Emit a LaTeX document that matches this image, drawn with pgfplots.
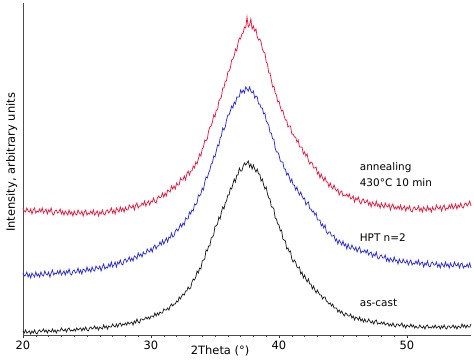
\documentclass[border=0pt]{standalone}
\usepackage{fontspec}
\setmainfont{DejaVu Sans}
\usepackage{pgfplots}
\usepackage{pgfplotstable}
\pgfplotsset{compat=1.18}
\definecolor{cred}{RGB}{232,28,64}
\definecolor{cblue}{RGB}{45,45,220}
\definecolor{cblack}{RGB}{30,30,30}
\pgfplotstableread{
x b h a
20.0 4 62 127
20.1 2 59 124
20.2 5 60 123
20.3 2 63 127
20.4 3 58 124
20.5 4 61 123
20.6 1 57 126
20.7 4 62 121
20.8 2 60 125
20.9 5 58 127
21.0 2 63 122
21.1 1 59 124
21.2 4 61 123
21.3 5 58 126
21.4 3 63 123
21.5 4 60 127
21.6 6 59 122
21.7 3 64 124
21.8 5 61 126
21.9 2 60 121
22.0 5 63 125
22.1 4 58 123
22.2 3 62 127
22.3 6 65 121
22.4 3 60 120
22.5 5 62 124
22.6 2 61 125
22.7 5 64 122
22.8 4 61 123
22.9 4 65 126
23.0 7 60 121
23.1 5 62 124
23.2 4 64 120
23.3 6 60 124
23.4 3 64 122
23.5 6 62 120
23.6 7 66 125
23.7 4 61 121
23.8 5 60 123
23.9 4 64 119
24.0 6 65 124
24.1 4 62 121
24.2 7 63 120
24.3 5 67 125
24.4 6 62 122
24.5 7 65 121
24.6 4 61 124
24.7 7 66 119
24.8 5 65 123
24.9 8 63 125
25.0 5 68 120
25.1 4 64 122
25.2 7 66 121
25.3 8 63 124
25.4 6 68 121
25.5 7 65 125
25.6 9 64 120
25.7 6 69 122
25.8 8 67 124
25.9 5 66 119
26.0 8 69 123
26.1 7 64 121
26.2 6 68 125
26.3 10 71 121
26.4 7 66 120
26.5 9 68 124
26.6 6 67 125
26.7 9 71 122
26.8 8 68 124
26.9 8 73 127
27.0 11 68 122
27.1 9 70 125
27.2 8 73 121
27.3 11 68 127
27.4 8 73 125
27.5 11 71 123
27.6 12 75 128
27.7 9 71 124
27.8 11 70 127
27.9 10 75 123
28.0 12 76 128
28.1 10 73 125
28.2 13 75 125
28.3 11 78 130
28.4 12 74 128
28.5 13 77 127
28.6 10 74 130
28.7 14 79 125
28.8 12 78 130
28.9 16 76 132
29.0 13 82 127
29.1 12 79 129
29.2 16 81 129
29.3 16 78 132
29.4 15 83 130
29.5 16 81 134
29.6 18 81 129
29.7 16 86 132
29.8 18 84 134
29.9 16 83 130
30.0 19 87 134
30.1 19 83 133
30.2 18 88 137
30.3 22 90 133
30.4 19 86 132
30.5 22 89 137
30.6 20 89 139
30.7 23 93 137
30.8 22 90 138
30.9 22 95 142
31.0 26 91 138
31.1 25 94 142
31.2 25 97 139
31.3 27 93 145
31.4 25 98 144
31.5 29 97 143
31.6 31 102 149
31.7 29 98 146
31.8 31 99 149
31.9 31 104 146
32.0 34 106 152
32.1 33 104 150
32.2 38 107 150
32.3 36 111 157
32.4 39 108 155
32.5 41 112 155
32.6 40 110 159
32.7 44 117 155
32.8 44 116 161
32.9 48 116 164
33.0 46 123 160
33.1 47 121 164
33.2 53 125 164
33.3 56 124 169
33.4 55 131 167
33.5 58 130 173
33.6 64 132 171
33.7 62 140 176
33.8 67 139 181
33.9 66 141 179
34.0 74 147 186
34.1 75 145 188
34.2 76 153 195
34.3 85 158 194
34.4 84 157 196
34.5 89 162 204
34.6 89 165 208
34.7 97 171 209
34.8 98 172 213
34.9 100 179 220
35.0 109 178 218
35.1 109 184 225
35.2 111 190 225
35.3 118 189 234
35.4 116 197 236
35.5 123 199 238
35.6 128 207 247
35.7 126 205 247
35.8 132 208 254
35.9 134 215 254
36.0 140 220 263
36.1 140 220 264
36.2 147 224 267
36.3 146 229 275
36.4 151 227 276
36.5 156 233 279
36.6 153 231 286
36.7 160 238 284
36.8 160 238 292
36.9 167 238 297
37.0 164 245 296
37.1 164 242 301
37.2 169 245 302
37.3 172 242 308
37.4 170 248 307
37.5 172 246 318
37.6 174 244 308
37.7 168 248 310
37.8 171 244 316
37.9 166 242 306
38.0 170 244 309
38.1 166 237 304
38.2 163 239 306
38.3 166 238 298
38.4 161 231 295
38.5 161 231 296
38.6 154 227 293
38.7 156 227 286
38.8 150 221 283
38.9 146 222 282
39.0 148 214 273
39.1 141 212 271
39.2 137 210 262
39.3 136 202 262
39.4 128 202 255
39.5 128 196 248
39.6 126 196 249
39.7 117 187 242
39.8 116 183 240
39.9 111 183 233
40.0 110 180 234
40.1 104 174 228
40.2 105 173 224
40.3 96 173 225
40.4 95 166 219
40.5 94 166 215
40.6 86 160 215
40.7 87 162 208
40.8 83 158 209
40.9 84 153 209
41.0 76 156 201
41.1 73 150 201
41.2 75 150 198
41.3 73 145 198
41.4 68 148 193
41.5 67 143 195
41.6 68 140 188
41.7 61 143 188
41.8 63 139 188
41.9 57 136 181
42.0 60 137 183
42.1 56 130 179
42.2 53 132 181
42.3 56 133 174
42.4 51 126 171
42.5 51 126 173
42.6 46 123 172
42.7 49 124 167
42.8 45 120 167
42.9 42 122 168
43.0 45 115 161
43.1 42 115 163
43.2 40 115 157
43.3 40 109 161
43.4 36 111 157
43.5 38 107 154
43.6 38 110 158
43.7 34 103 153
43.8 33 101 153
43.9 31 103 148
44.0 32 103 152
44.1 29 99 148
44.2 31 99 146
44.3 27 100 150
44.4 27 94 146
44.5 27 96 144
44.6 23 91 146
44.7 25 95 140
44.8 22 93 143
44.9 24 90 144
45.0 21 94 139
45.1 19 89 140
45.2 22 91 139
45.3 21 86 141
45.4 19 91 138
45.5 19 87 141
45.6 21 86 136
45.7 17 90 137
45.8 19 87 139
45.9 15 85 133
46.0 18 88 137
46.1 17 83 135
46.2 15 86 138
46.3 18 88 133
46.4 14 82 131
46.5 16 84 135
46.6 13 83 136
46.7 16 85 132
46.8 13 82 133
46.9 13 85 135
47.0 16 80 130
47.1 14 82 133
47.2 12 83 128
47.3 14 78 133
47.4 11 81 131
47.5 14 79 129
47.6 15 83 134
47.7 11 77 129
47.8 12 76 131
47.9 11 79 127
48.0 13 80 132
48.1 11 77 129
48.2 13 77 127
48.3 10 80 132
48.4 11 74 129
48.5 12 77 128
48.6 9 73 131
48.7 11 77 125
48.8 9 75 129
48.9 12 73 131
49.0 9 78 126
49.1 8 74 128
49.2 11 75 126
49.3 11 71 129
49.4 9 76 126
49.5 10 73 130
49.6 12 72 125
49.7 8 76 127
49.8 10 73 129
49.9 7 72 124
50.0 10 75 128
50.1 9 70 126
50.2 8 73 129
50.3 11 75 124
50.4 8 70 123
50.5 10 72 127
50.6 7 71 128
50.7 9 74 125
50.8 7 71 126
50.9 7 75 129
51.0 10 70 124
51.1 8 72 127
51.2 7 73 123
51.3 9 68 128
51.4 6 72 126
51.5 9 70 124
51.6 10 74 129
51.7 7 69 125
51.8 8 68 127
51.9 7 72 123
52.0 9 73 128
52.1 7 70 125
52.2 10 70 125
52.3 7 73 130
52.4 8 68 127
52.5 9 71 126
52.6 6 67 129
52.7 9 72 124
52.8 7 70 128
52.9 10 68 130
53.0 7 73 125
53.1 6 69 127
53.2 9 71 126
53.3 9 67 130
53.4 7 72 127
53.5 8 69 131
53.6 10 68 126
53.7 7 73 128
53.8 9 70 131
53.9 6 69 126
54.0 9 72 130
54.1 8 67 128
54.2 7 71 132
54.3 11 72 128
54.4 8 67 127
54.5 10 69 131
54.6 7 68 132
54.7 10 71 129
54.8 8 68 131
54.9 8 72 134
55.0 11 67 129
}\xrd
\begin{document}
\begin{tikzpicture}
\begin{axis}[
  at={(0,0)}, anchor=south west,
  scale only axis, width=448bp, height=332bp,
  xmin=20, xmax=55, ymin=0, ymax=332,
  axis x line=bottom, axis y line=left,
  axis line style={-, color=black!70, line width=0.8pt},
  xtick={20,30,40,50}, minor x tick num=9, ytick=\empty,
  tick align=outside, major tick length=3bp, minor tick length=2bp,
  tick style={color=black!80, line width=0.4pt},
  /pgf/number format/assume math mode=true,
  xticklabel style={font=\fontsize{11.5}{13}\selectfont, inner sep=1pt, yshift=-2bp},
  xlabel={2Theta (°)},
  xlabel style={font=\fontsize{11.5}{13}\selectfont, at={(axis description cs:0.44,0)}, anchor=north, yshift=-7bp},
  ylabel={Intensity, arbitrary units},
  ylabel style={font=\fontsize{11.5}{13}\selectfont, at={(axis description cs:-0.025,0.52)}, anchor=center},
  clip=false,
]
\addplot[cblack, line width=0.75pt] table[x=x, y=b] {\xrd};
\addplot[cblue, line width=0.75pt] table[x=x, y=h] {\xrd};
\addplot[cred, line width=0.75pt] table[x=x, y=a] {\xrd};
\node[anchor=west, font=\fontsize{10.5}{12}\selectfont, inner sep=0pt] at (axis cs:46.3,167) {annealing};
\node[anchor=west, font=\fontsize{10.5}{12}\selectfont, inner sep=0pt] at (axis cs:46.3,152) {430°C 10 min};
\node[anchor=west, font=\fontsize{10.5}{12}\selectfont, inner sep=0pt] at (axis cs:46.3,97) {HPT n=2};
\node[anchor=west, font=\fontsize{10.5}{12}\selectfont, inner sep=0pt] at (axis cs:46.3,32) {as-cast};
\end{axis}
\pgfresetboundingbox
\useasboundingbox (-23bp,-26bp) rectangle (451bp,335bp);
\end{tikzpicture}
\end{document}
